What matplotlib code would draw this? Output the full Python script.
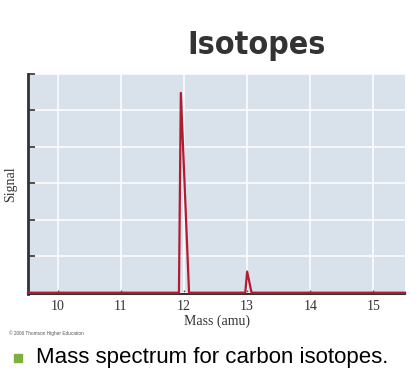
import matplotlib.pyplot as plt

# Mass spectrum of carbon: baseline with two sharp peaks (12C and 13C)
mass = [9.53, 11.92, 11.95, 12.08, 12.97, 13.0, 13.07, 15.5]
signal = [0, 0, 5.48, 0, 0, 0.58, 0, 0]
x_ticks = [10, 11, 12, 13, 14, 15]
y_ticks = [0, 1, 2, 3, 4, 5, 6]

fig = plt.figure(figsize=(4.18, 3.70), dpi=100)
ax = fig.add_axes([0.067, 0.205, 0.902, 0.595])

ax.set_facecolor('#d9e1ea')
ax.plot(mass, signal, color='#b01c30', lw=1.6, zorder=3, clip_on=False)

ax.set_xlim(9.53, 15.5)
ax.set_ylim(-0.04, 6)
ax.set_xticks(x_ticks)
ax.set_yticks(y_ticks)
ax.set_yticklabels([])
ax.grid(True, color='white', lw=1.1)
ax.set_axisbelow(True)

ax.tick_params(axis='y', direction='in', length=5, width=1.2, color='#333333')
ax.tick_params(axis='x', direction='in', length=3, width=1, color='#555555', pad=4)
for lab in ax.get_xticklabels():
    lab.set_family('Liberation Serif')
    lab.set_fontsize(10)
    lab.set_color('#333333')

for side in ['top', 'right']:
    ax.spines[side].set_visible(False)
ax.spines['left'].set_color('#333333')
ax.spines['left'].set_linewidth(2)
ax.spines['bottom'].set_color('#333333')
ax.spines['bottom'].set_linewidth(1.5)

ax.set_xlabel('Mass (amu)', family='Liberation Serif', fontsize=10, color='#333333', labelpad=1)
ax.set_ylabel('Signal', family='Liberation Serif', fontsize=10, color='#333333', labelpad=4)

# slide title and caption
fig.text(0.613, 0.876, 'Isotopes', ha='center', va='center', fontsize=23,
         family='DejaVu Sans', fontweight='bold', fontstretch='condensed', color='#333333')
fig.text(0.022, 0.1, '\u00a9 2006 Thomson Higher Education', fontsize=3.4,
         family='Liberation Sans', color='#555555', va='center')
fig.patches.append(plt.Rectangle((0.034, 0.022), 0.018, 0.021, transform=fig.transFigure,
                                 color='#7fb03e', figure=fig))
fig.text(0.086, 0.034, 'Mass spectrum for carbon isotopes.', fontsize=16,
         family='Liberation Sans', color='black', va='center')

plt.savefig('out.png', dpi=100)
